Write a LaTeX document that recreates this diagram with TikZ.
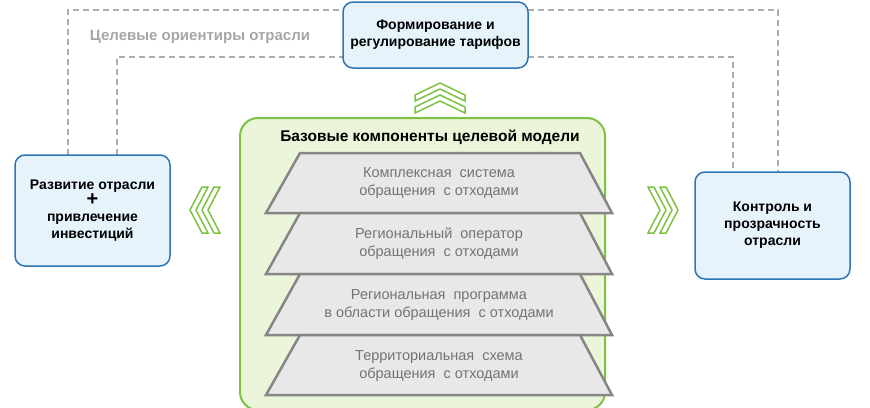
\documentclass[tikz,border=0pt]{standalone}
\usepackage{fontspec}
\setmainfont{Liberation Sans}
\definecolor{bblue}{HTML}{2E75B6}
\definecolor{bfill}{HTML}{E6F3FB}
\definecolor{ggreen}{HTML}{7DC242}
\definecolor{gfill}{HTML}{EBF5D9}
\begin{document}
\begin{tikzpicture}[x=1pt,y=-1pt,
 bbox/.style={draw=bblue, line width=1.5pt, fill=bfill, rounded corners=10pt, align=center, font=\bfseries\fontsize{14}{17}\selectfont},
 trap/.style={draw=gray!95, line width=2.5pt, fill=gray!18},
 ttext/.style={text=gray!90!black, align=center, font=\fontsize{14.5}{18}\selectfont},
 dline/.style={draw=gray!65, dash pattern=on 6pt off 4pt, line width=1.6pt},
 chev/.style={draw=ggreen, line width=1.5pt, fill=white}]
\useasboundingbox (0,0) rectangle (870,407);
% dashed lines
\coordinate (lo) at (68,155); \coordinate (li) at (117,155);
\coordinate (ro) at (778,172); \coordinate (ri) at (733,172);
\draw[dline] (lo) |- (343,10);
\draw[dline] (li) |- (343,57);
\draw[dline] (528,10) -| (ro);
\draw[dline] (528,57) -| (ri);
\node[text=gray!70, font=\bfseries\fontsize{15}{17}\selectfont] (lbl) at (200,37) {Целевые ориентиры отрасли};
% boxes
\node[bbox, minimum width=185pt, minimum height=66pt] (top) at (435.5,35) {Формирование и\\регулирование тарифов};
\node[bbox, minimum width=155pt, minimum height=111pt] (left) at (92.5,210.5) {Развитие отрасли\\[-1pt]{\fontsize{20}{18}\selectfont+}\\[-1pt]привлечение\\инвестиций};
\node[bbox, minimum width=155pt, minimum height=107pt] (right) at (772.5,225.5) {Контроль и\\прозрачность\\отрасли};
% green container
\node[draw=ggreen, line width=2pt, fill=gfill, rounded corners=18pt, minimum width=365pt, minimum height=292pt] (base) at (422.5,264) {};
\node[font=\bfseries\fontsize{15.5}{18}\selectfont] (btitle) at (430,137) {Базовые компоненты целевой модели};
% trapezoids
\foreach \i/\ya/\yb in {1/153/213, 2/213/274, 3/274/335, 4/335/395}{
  \draw[trap] (300,\ya) -- (580,\ya) -- (612,\yb) -- (266,\yb) -- cycle;
}
\node[ttext] (t1) at (439,183) {Комплексная\ \ система\\обращения\ \ с отходами};
\node[ttext] (t2) at (439,244) {Региональный\ \ оператор\\обращения\ \ с отходами};
\node[ttext] (t3) at (439,305) {Региональная\ \ программа\\в области обращения\ \ с отходами};
\node[ttext] (t4) at (439,366) {Территориальная\ \ схема\\обращения\ \ с отходами};
% chevrons up
\foreach \d in {0,12}{
 \draw[chev] (415,{95+\d}) -- (440,{83+\d}) -- (465,{95+\d}) -- (465,{101+\d}) -- (440,{89+\d}) -- (415,{101+\d}) -- cycle;}
% left chevrons
\foreach \d in {0,12}{
 \draw[chev] ({190+\d},210) -- ({202+\d},187) -- ({208+\d},187) -- ({196+\d},210) -- ({208+\d},233) -- ({202+\d},233) -- cycle;}
% right chevrons
\foreach \d in {0,12}{
 \draw[chev] ({666+\d},210) -- ({654+\d},187) -- ({648+\d},187) -- ({660+\d},210) -- ({648+\d},233) -- ({654+\d},233) -- cycle;}
\end{tikzpicture}
\end{document}
